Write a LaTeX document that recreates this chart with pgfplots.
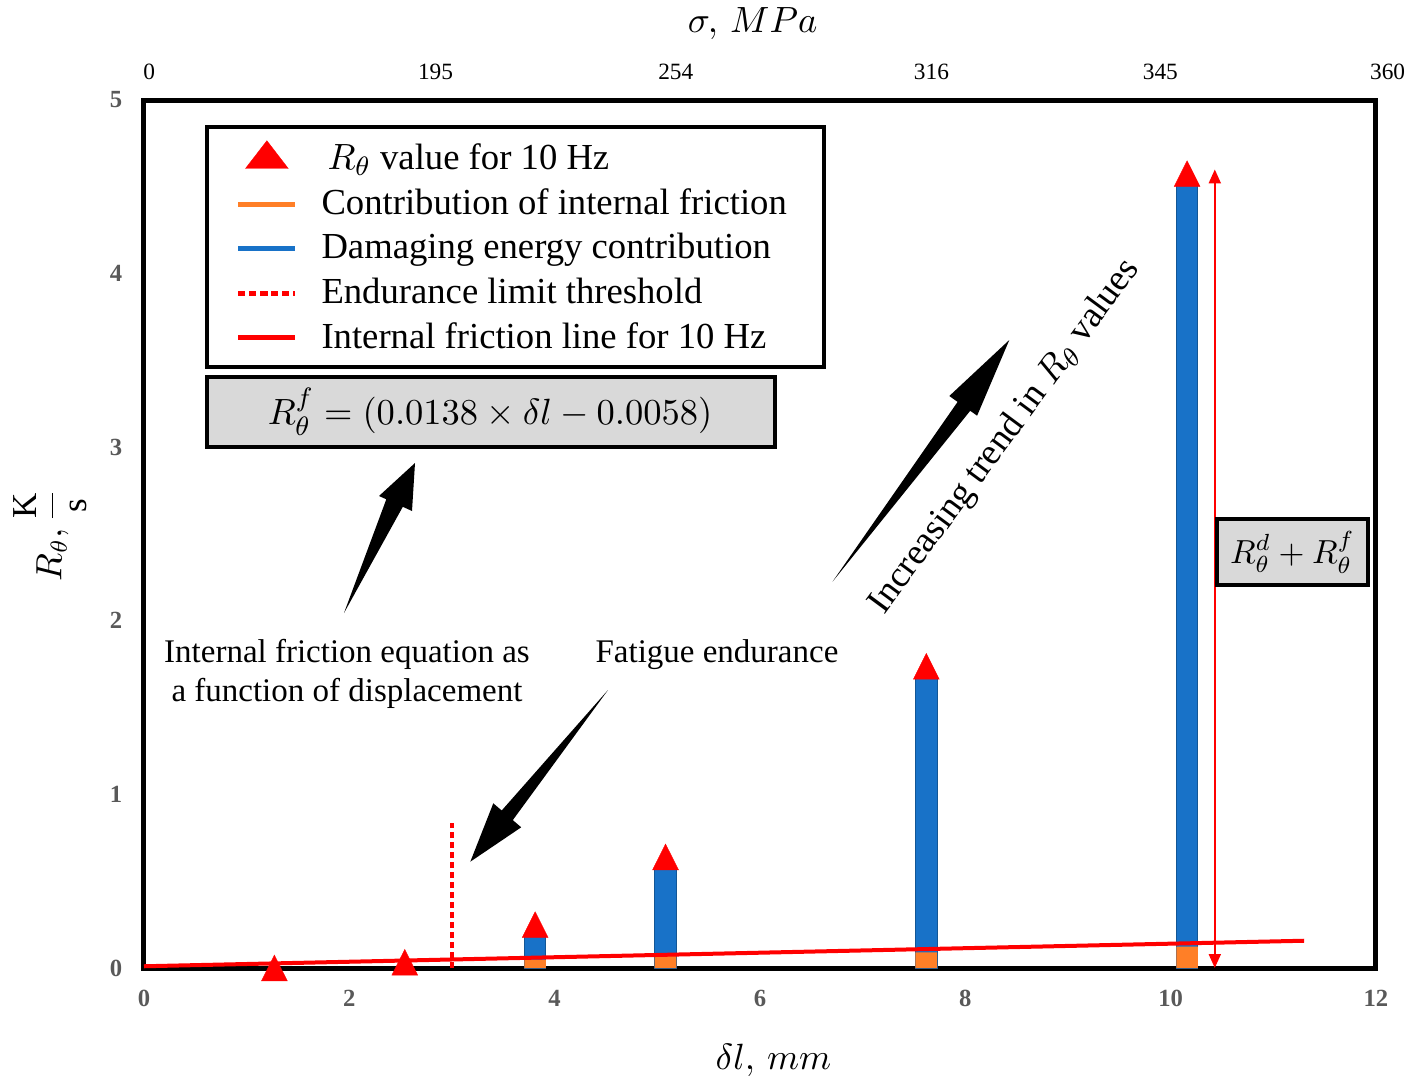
\documentclass[border=0pt]{standalone}
\usepackage{fontspec}
\setmainfont{Liberation Serif}
\usepackage{pgfplots}
\pgfplotsset{compat=1.18}
\usetikzlibrary{arrows.meta}
\definecolor{barblue}{RGB}{24,114,200}
\definecolor{barorange}{RGB}{255,127,39}
\definecolor{boxgray}{RGB}{217,217,217}
\definecolor{tickgray}{RGB}{89,89,89}
\begin{document}
\begin{tikzpicture}
\begin{axis}[
  scale only axis, width=369.6pt, height=260.4pt,
  xmin=0, xmax=12, ymin=0, ymax=5,
  xtick={0,2,...,12}, ytick={0,1,...,5},
  major tick length=0pt,
  axis line style={line width=1.5pt},
  clip=false,
  /pgf/number format/assume math mode=true,
  tick label style={font=\fontsize{7.4}{9}\selectfont\bfseries, text=tickgray},
  xticklabel style={anchor=center, yshift=-9pt},
  yticklabel style={anchor=center, xshift=-8.4pt},
  xlabel={$\delta l,\, mm$},
  xlabel style={at={(axis description cs:0.511,-0.106)}, anchor=center, font=\fontsize{10.5}{12}\selectfont},
  ylabel={$R_{\theta},\displaystyle\frac{\mathrm{K}}{\mathrm{s}}$},
  ylabel style={at={(axis description cs:-0.076,0.499)}, anchor=center, font=\fontsize{10.5}{12}\selectfont},
  title={$\sigma,\, MPa$},
  every axis title shift=0pt,
  title style={at={(axis description cs:0.494,1.088)}, anchor=center, font=\fontsize{10.5}{12}\selectfont},
  legend style={at={(axis cs:0.6,4.84)}, anchor=north west, draw=none, fill=none,
    font=\fontsize{11}{13}\selectfont, row sep=0.2pt, inner xsep=8.9pt, inner ysep=2.6pt},
  legend cell align=left,
]
\addlegendimage{only marks, mark=triangle*, mark size=7.4pt, color=red, mark options={solid, fill=red, draw=red, line width=0.1pt, yscale=0.75}}
\addlegendentry{\hspace{5.1pt}\,$R_\theta$ value for 10 Hz}
\addlegendimage{barorange, line width=1.5pt}
\addlegendentry{\hspace{5.1pt}Contribution of internal friction}
\addlegendimage{barblue, line width=1.5pt}
\addlegendentry{\hspace{5.1pt}Damaging energy contribution}
\addlegendimage{red, line width=1.5pt, dash pattern=on 2pt off 1.3pt}
\addlegendentry{\hspace{5.1pt}Endurance limit threshold}
\addlegendimage{red, line width=1.5pt}
\addlegendentry{\hspace{5.1pt}Internal friction line for 10 Hz}

% total bars (damaging + friction)
\addplot[ybar, bar shift=0pt, bar width=6.5pt, fill=barblue, draw=barblue!75!black, line width=0.3pt, forget plot]
  coordinates {(3.81,0.18) (5.08,0.565) (7.62,1.67) (10.16,4.515)};
% internal friction contribution
\addplot[ybar, bar shift=0pt, bar width=6.5pt, fill=barorange, draw=none, forget plot]
  coordinates {(3.81,0.048) (5.08,0.07) (7.62,0.09) (10.16,0.123)};
% internal friction line
\addplot[red, line width=1.2pt, forget plot] coordinates {(0,0.01) (11.3,0.157)};
% R_theta values
\addplot[red, only marks, mark=triangle*, mark size=4.5pt, mark options={solid, fill=red, draw=red, line width=0.1pt, yscale=1.15}, forget plot]
  coordinates {(1.27,-0.025) (2.54,0.008) (3.81,0.225) (5.08,0.615) (7.62,1.713) (10.16,4.551)};
% endurance limit threshold
\addplot[red, line width=1.1pt, dash pattern=on 1.8pt off 1.2pt, forget plot] coordinates {(3,0) (3,0.835)};
% R^d + R^f span
\addplot[red, line width=0.6pt, {Triangle[width=3.6pt,length=4.2pt]}-{Triangle[width=3.6pt,length=4.2pt]}, forget plot]
  coordinates {(10.43,0) (10.43,4.60)};
\end{axis}

\begin{axis}[
  scale only axis, width=369.6pt, height=260.4pt,
  xmin=0, xmax=12, ymin=0, ymax=5,
  axis x line*=top, axis y line=none,
  x axis line style={draw=none},
  major tick length=0pt,
  xtick={0.05,2.84,5.18,7.67,9.9,12},
  xticklabels={0,195,254,316,345,\hspace*{7pt}360},
  xticklabel style={anchor=center, yshift=8.4pt, font=\fontsize{7}{8}\selectfont},
]
\addplot[draw=none, forget plot] coordinates {(0,0)};
\end{axis}

\begin{scope}[x=0.3pt, y=-0.3pt, shift={(-43.2pt,290.4pt)}]
  % legend frame
  \draw[line width=1.3pt] (207,127) rectangle (824,367);
  % equation box
  \draw[line width=1.2pt, fill=boxgray] (207,377) rectangle (775,447);
  \node[font=\fontsize{11}{13}\selectfont] at (490,412) {$R_\theta^f = (0.0138\times\delta l-0.0058)$};
  % R^d + R^f box
  \draw[line width=1.2pt, fill=boxgray] (1217,519) rectangle (1368,585);
  \node[font=\fontsize{10}{12}\selectfont] at (1292.5,552) {$R_\theta^d+R_\theta^f$};
  % annotations
  \node[font=\fontsize{9.9}{11.7}\selectfont, align=center] at (347,674) {Internal friction equation as\\a function of displacement};
  \node[font=\fontsize{9.9}{11.7}\selectfont] at (717,655) {Fatigue endurance};
  \node[font=\fontsize{11}{13}\selectfont, rotate=53.5] at (1005,437) {Increasing trend in $R_\theta$ values};
  % black arrows
  \fill[black] (344,613) -- (386.3,499.3) -- (379,496) -- (415,463) -- (412,511) -- (402.8,506.8) -- cycle;
  \fill[black] (608,690) -- (512.8,820.1) -- (521.2,827.3) -- (470.3,861.7) -- (493.3,803.3) -- (501.7,810.5) -- cycle;
  \fill[black] (832.5,581.7) -- (957.6,401.9) -- (949.3,396) -- (1009.3,340) -- (977.1,415.7) -- (970.2,410.8) -- cycle;
\end{scope}

\pgfresetboundingbox
\path[use as bounding box] (-43.2pt,-36.9pt) rectangle (380.7pt,290.4pt);
\end{tikzpicture}
\end{document}
